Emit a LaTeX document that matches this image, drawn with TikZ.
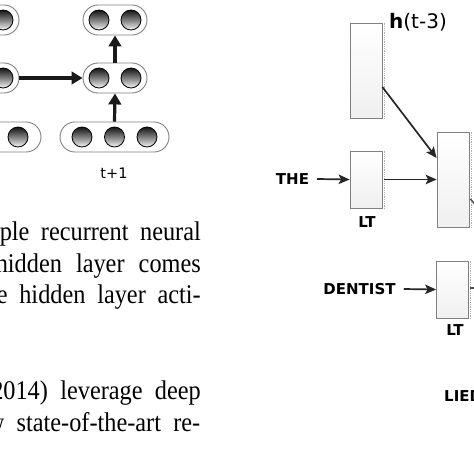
\documentclass[tikz,border=0pt]{standalone}
\usepackage{fontspec}
\setmainfont{Liberation Serif}
\newfontfamily\serifx[FakeStretch=0.9]{Liberation Serif}
\newfontfamily\dvs{DejaVu Sans}
\usetikzlibrary{arrows.meta}
\begin{document}
\begin{tikzpicture}[x=1pt,y=-1pt,
  pill/.style={draw=black!50, line width=0.9pt, fill=white, rounded corners=15pt, minimum height=30pt, inner sep=0pt},
  ball/.style={circle, draw=black, line width=0.8pt, minimum size=20pt, inner sep=0pt, top color=black!92, bottom color=black!3, middle color=black!50},
  barrow/.style={line width=3.2pt, black!90, -{Triangle[length=11pt,width=12.5pt]}},
  rbox/.style={draw=black!50, line width=0.8pt, top color=white, bottom color=black!6, minimum width=32pt, inner sep=0pt},
  rarrow/.style={line width=1.7pt, black!85, -{Stealth[length=11pt,width=9.5pt,inset=2.5pt]}},
  rline/.style={line width=1.4pt, black!70},
  lab/.style={font=\dvs\bfseries\fontsize{15}{18}\selectfont, inner sep=0pt},
  para/.style={font=\serifx\fontsize{27}{32}\selectfont, inner sep=0pt, anchor=base east},
  shadeline/.style={black!30, densely dotted, line width=0.8pt}
]
\useasboundingbox (0,0) rectangle (474,474);
\clip (0,0) rectangle (474,474);
\fill[white] (0,0) rectangle (474,474);

% ---- left diagram: time step t (cut) ----
\node[pill, minimum width=64pt] (pt3) at (-13,20) {};
\node[ball] (bt31) at (-29,20) {};
\node[ball] (bt32) at (3,20) {};
\node[pill, minimum width=64pt] (pt2) at (-13,78) {};
\node[ball] (bt21) at (-29,78) {};
\node[ball] (bt22) at (3,78) {};
\node[pill, minimum width=109pt] (pt1) at (-13.5,137) {};
\node[ball] (bt11) at (-46,137) {};
\node[ball] (bt12) at (-14,137) {};
\node[ball] (bt13) at (18,137) {};

% ---- left diagram: time step t+1 ----
\node[pill, minimum width=64pt] (pn3) at (115,20) {};
\node[ball] (bn31) at (99,20) {};
\node[ball] (bn32) at (131,20) {};
\node[pill, minimum width=64pt] (pn2) at (115,78) {};
\node[ball] (bn21) at (99,78) {};
\node[ball] (bn22) at (131,78) {};
\node[pill, minimum width=109pt] (pn1) at (114.5,137) {};
\node[ball] (bn11) at (82,137) {};
\node[ball] (bn12) at (114.5,137) {};
\node[ball] (bn13) at (147,137) {};

\draw[barrow] (pt2.east) -- (pn2.west);
\draw[barrow] (pn1.north) -- (pn2.south);
\draw[barrow] (pn2.north) -- (pn3.south);

\node[font=\dvs\fontsize{14.5}{17}\selectfont, inner sep=0pt, anchor=base] (tp1) at (114,178) {t+1};

% ---- paragraph text ----
\node[para] (l1) at (201,240) {\makebox[201pt][s]{ple recurrent neural}};
\node[para] (l2) at (201,272) {\makebox[205pt][s]{hidden layer comes}};
\node[para] (l3) at (201,303.5) {\makebox[204pt][s]{e hidden layer acti-}};
\node[para] (l4) at (201,399) {\makebox[209.5pt][s]{2014) leverage deep}};
\node[para] (l5) at (200.5,431) {\makebox[213.5pt][s]{w state-of-the-art re-}};

% ---- right diagram ----
\node[rbox, minimum height=95pt] (hb) at (366,70.5) {};
\node[rbox, minimum height=57pt] (lt1) at (366,179.5) {};
\node[rbox, minimum height=95pt] (big) at (453,179.5) {};
\node[rbox, minimum height=57pt] (lt2) at (452.5,289.5) {};
\foreach \b in {hb,lt1,big,lt2}
  \draw[shadeline] ([xshift=1.6pt]\b.north east) -- ([xshift=1.6pt]\b.south east);

\node[inner sep=0pt, anchor=west, font=\dvs\fontsize{20}{24}\selectfont] (hlab) at (389,22.5) {\textbf{h}(t-3)};
\node[lab] (the) at (292.5,179) {THE};
\node[lab] (den) at (359.5,289) {DENTIST};
\node[lab] (ltl1) at (367,222) {LT};
\node[lab] (ltl2) at (455,330) {LT};
\node[lab, anchor=west] (lie) at (444,396) {LIED};

\draw[rarrow] ([xshift=8pt]the.east) -- (lt1.west);
\draw[rarrow] ([xshift=8pt]den.east) -- (lt2.west);
\draw[rarrow] ([xshift=1.5pt]lt1.east) -- (big.west);
\draw[rarrow] ([yshift=-16.5pt]hb.east) -- ([yshift=21.5pt]big.west);
\coordinate (o1) at (490,222);
\coordinate (o2) at (490,288);
\draw[rline] ([yshift=-19.5pt, xshift=1pt]big.east) -- (o1);
\draw[rline] ([yshift=1.5pt, xshift=1pt]lt2.east) -- (o2);
\end{tikzpicture}
\end{document}
